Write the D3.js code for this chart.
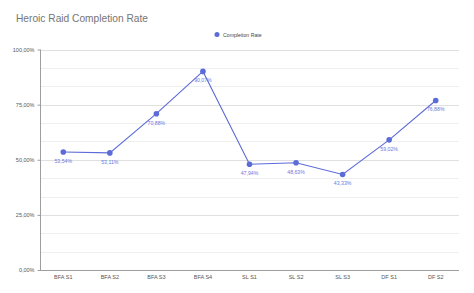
<!DOCTYPE html>
<html><head><meta charset="utf-8">
<script src="https://cdn.jsdelivr.net/npm/d3@7"></script>
<style>body{margin:0;background:#fff}svg{display:block;font-family:Arial,"Liberation Sans",sans-serif}</style>
</head><body><svg id="c" width="474" height="293"></svg>
<script>
const categories = ["BFA S1","BFA S2","BFA S3","BFA S4","SL S1","SL S2","SL S3","DF S1","DF S2"];
const values = [53.54, 53.11, 70.88, 90.07, 47.94, 48.63, 43.33, 59.02, 76.88];
const yTicks = [0, 25, 50, 75, 100];
const seriesName = "Completion Rate";
const title = "Heroic Raid Completion Rate";

const svg = d3.select("#c");
const color = "#5b6bd8";
const fmt = v => v.toFixed(2).replace(".", ",") + "%";

const x = d3.scaleBand().domain(categories).range([40, 459]);
const y = d3.scaleLinear().domain([0, 100]).range([270, 49.5]);

svg.append("text").attr("x", 16).attr("y", 22).attr("fill", "#757575")
  .attr("font-size", 10.2).text(title);

// gridlines every 1/12 of range
const grid = d3.range(1, 13).map(i => i * 100 / 12);
svg.append("g").selectAll("line").data(grid).join("line")
  .attr("x1", 40).attr("x2", 459)
  .attr("y1", d => Math.round(y(d)) + 0.5).attr("y2", d => Math.round(y(d)) + 0.5)
  .attr("stroke", d => (Math.abs(d % 25) < 0.01 || Math.abs(d % 25 - 25) < 0.01) ? "#e0e0e0" : "#efefef")
  .attr("stroke-width", 1);

// y axis
const ya = svg.append("g").attr("transform", "translate(40.5,0)")
  .call(d3.axisLeft(y).tickValues(yTicks).tickSize(3).tickFormat(fmt));
ya.select(".domain").attr("stroke", "#9e9e9e").attr("d", `M0,${y(100)}V${y(0)}`);
ya.selectAll(".tick line").attr("stroke", "#9e9e9e");
ya.selectAll(".tick text").attr("fill", "#555").attr("font-size", 5.5).attr("font-family", "Arial,'Liberation Sans',sans-serif");

// x axis
const xa = svg.append("g").attr("transform", "translate(0,270.5)")
  .call(d3.axisBottom(x).tickSize(0).tickPadding(5));
xa.select(".domain").attr("stroke", "#9e9e9e").attr("d", "M40,0H459");
xa.selectAll(".tick text").attr("fill", "#555").attr("font-size", 5.5).attr("font-family", "Arial,'Liberation Sans',sans-serif");

const cx = d => x(d) + x.bandwidth() / 2;
const pts = categories.map((c, i) => ({c, v: values[i]}));

svg.append("path").datum(pts)
  .attr("fill", "none").attr("stroke", color).attr("stroke-width", 1.1)
  .attr("d", d3.line().x(d => cx(d.c)).y(d => y(d.v)));

svg.append("g").selectAll("circle").data(pts).join("circle")
  .attr("cx", d => cx(d.c)).attr("cy", d => y(d.v)).attr("r", 2.8).attr("fill", color);

svg.append("g").selectAll("text").data(pts).join("text")
  .attr("x", d => cx(d.c)).attr("y", d => y(d.v) + 11)
  .attr("text-anchor", "middle").attr("fill", "#6a78dc").attr("font-size", 5.2)
  .text(d => fmt(d.v));

// legend
svg.append("circle").attr("cx", 217).attr("cy", 34.5).attr("r", 2.5).attr("fill", color);
svg.append("text").attr("x", 223).attr("y", 36.5).attr("font-size", 5.2).attr("fill", "#444").text(seriesName);
</script></body></html>
